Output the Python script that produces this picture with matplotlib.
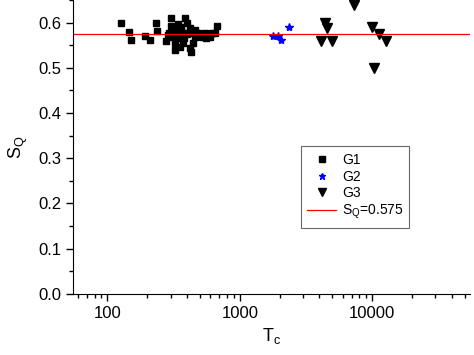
import numpy as np
import matplotlib.pyplot as plt
from matplotlib.ticker import FixedLocator, FixedFormatter, MultipleLocator, LogLocator, NullFormatter

plt.rcParams['font.family'] = ['Liberation Sans', 'DejaVu Sans']
plt.rcParams['mathtext.fontset'] = 'custom'
plt.rcParams['mathtext.rm'] = 'Liberation Sans'

# G1 (squares)
g1_x = [127, 145, 151, 192, 210, 231, 238,
        305, 385, 300, 340, 400, 285, 279, 322, 370, 440, 322, 351, 418, 430, 670,
        290, 310, 330, 350, 360, 380, 400, 420, 450, 480, 510, 550, 590, 620, 650,
        300, 340, 380, 460, 520, 560, 600, 330, 360, 420, 460]
g1_y = [0.600, 0.579, 0.562, 0.571, 0.561, 0.600, 0.581,
        0.610, 0.610, 0.592, 0.596, 0.599, 0.573, 0.559, 0.555, 0.555, 0.555, 0.540, 0.547, 0.544, 0.534, 0.592,
        0.578, 0.575, 0.580, 0.575, 0.582, 0.577, 0.574, 0.579, 0.576, 0.578, 0.575, 0.577, 0.574, 0.578, 0.577,
        0.568, 0.566, 0.565, 0.568, 0.568, 0.567, 0.568, 0.587, 0.590, 0.588, 0.584]
# G2 (stars)
g2_x = [1780, 1950, 2050, 2350]
g2_y = [0.571, 0.571, 0.561, 0.590]
# G3 (down triangles)
g3_x = [7310, 4400, 4540, 4110, 4980, 10040, 11350, 12760, 10350]
g3_y = [0.640, 0.600, 0.588, 0.559, 0.559, 0.590, 0.575, 0.559, 0.500]
sq_mean = 0.575

fig = plt.figure(figsize=(4.74, 3.55), dpi=100)
ax = fig.add_axes([0.154, 0.172, 0.838, 0.828])

ax.plot(g1_x, g1_y, 's', color='black', ms=5, ls='none', label='G1')
ax.plot(g2_x, g2_y, '*', color='blue', ms=6, ls='none', label='G2')
ax.plot(g3_x, g3_y, 'v', color='black', ms=7, ls='none', label='G3')
ax.axhline(sq_mean, color='red', lw=0.9, label=r'$\mathregular{S_Q}$=0.575')

ax.set_xscale('log')
ax.set_xlim(55, 55000)
ax.set_ylim(0, 0.65)
ax.xaxis.set_major_locator(FixedLocator([100, 1000, 10000]))
ax.xaxis.set_major_formatter(FixedFormatter(['100', '1000', '10000']))
ax.xaxis.set_minor_locator(LogLocator(base=10, subs=np.arange(2, 10)))
ax.xaxis.set_minor_formatter(NullFormatter())
ax.yaxis.set_major_locator(MultipleLocator(0.1))
ax.yaxis.set_minor_locator(MultipleLocator(0.05))
ax.yaxis.set_major_formatter(plt.FormatStrFormatter('%.1f'))

for s in ['top', 'right']:
    ax.spines[s].set_visible(False)
ax.tick_params(which='both', direction='out', labelsize=12, width=1)
ax.tick_params(which='major', length=5)
ax.tick_params(which='minor', length=3)

ax.set_xlabel(r'$\mathregular{T_c}$', fontsize=13)
ax.set_ylabel(r'$\mathregular{S_Q}$', fontsize=13, labelpad=6)

leg = ax.legend(loc='lower left', bbox_to_anchor=(0.556, 0.202), fontsize=10,
                frameon=True, fancybox=False, edgecolor='#444444',
                handlelength=2.1, labelspacing=0.2, borderpad=0.45,
                markerscale=0.75, handletextpad=0.4)
leg.get_frame().set_linewidth(0.8)

fig.savefig('out.png', dpi=100)
